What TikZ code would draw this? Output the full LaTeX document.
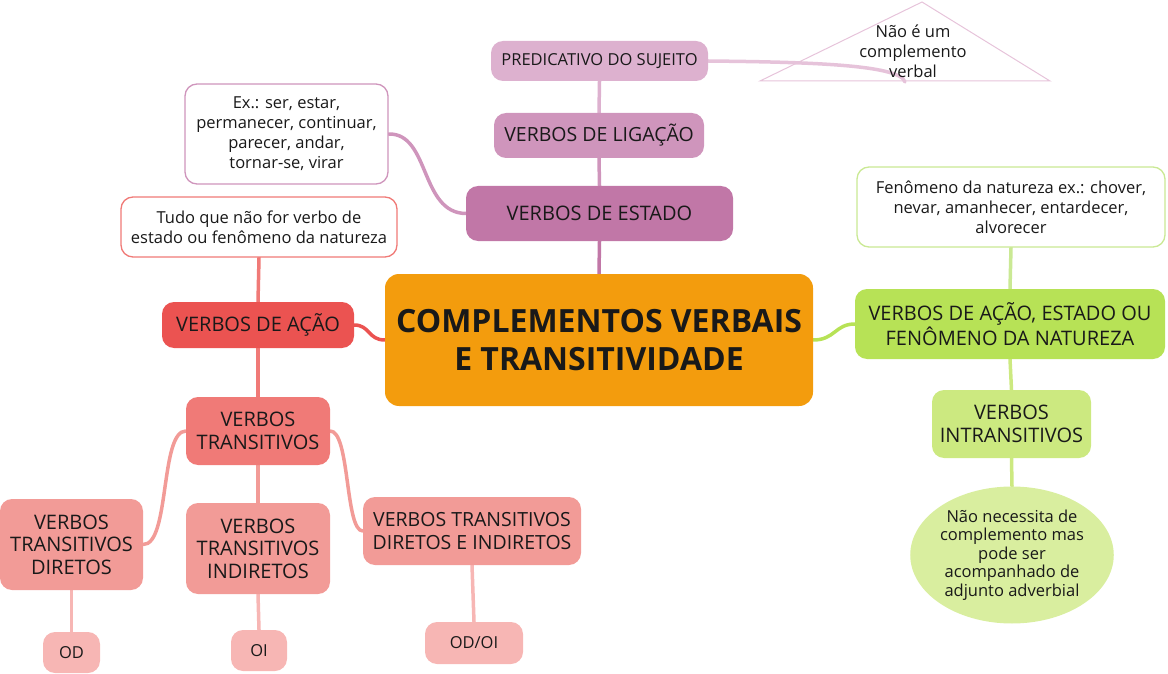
\documentclass[tikz,border=0pt]{standalone}
\usepackage{fontspec}
\setmainfont{Open Sans}
\usetikzlibrary{shapes.geometric, backgrounds}

\definecolor{centroC}{HTML}{F39C0D}
\definecolor{estadoC}{HTML}{C177A7}
\definecolor{ligacaoC}{HTML}{CF95BC}
\definecolor{predC}{HTML}{DDB1CF}
\definecolor{notaC}{HTML}{E6C3DA}
\definecolor{acaoC}{HTML}{EB5351}
\definecolor{transC}{HTML}{F07A77}
\definecolor{subC}{HTML}{F29B97}
\definecolor{folhaC}{HTML}{F7B6B4}
\definecolor{verdeC}{HTML}{B7E256}
\definecolor{intransC}{HTML}{CCE980}
\definecolor{elipseC}{HTML}{D9EE9F}
\definecolor{bordaVerdeC}{HTML}{CAE994}

\tikzset{
  box/.style={rounded corners=12pt, align=center, text=black!90, inner sep=0pt},
  nota/.style={box, fill=white, line width=1.3pt},
  elo/.style={line width=3.5pt, line cap=round},
  fs/.style args={#1/#2}{font=\fontsize{#1}{#2}\selectfont},
}

\begin{document}
\begin{tikzpicture}[x=1pt, y=-1pt]
  \useasboundingbox (0,0) rectangle (1168,674);
  % central topic
  \node[box, fill=centroC, minimum width=428, minimum height=132, rounded corners=14pt,
        font=\fontsize{32}{38}\selectfont\bfseries] (centro) at (599,340)
        {COMPLEMENTOS VERBAIS\\E TRANSITIVIDADE};
  % upper branch
  \node[box, fill=estadoC, minimum width=267, minimum height=55, fs=20/23] (estado) at (599.5,213.5) {VERBOS DE ESTADO};
  \node[box, fill=ligacaoC, minimum width=210, minimum height=45, fs=19.5/23] (ligacao) at (599,135.5) {VERBOS DE LIGAÇÃO};
  \node[box, fill=predC, minimum width=217, minimum height=40, fs=16.5/18] (pred) at (599.5,61) {PREDICATIVO DO SUJEITO};
  \node[nota, draw=ligacaoC, minimum width=203, minimum height=100, fs=16.5/20] (exemplo) at (286.5,134)
        {Ex.: ser, estar,\\permanecer, continuar,\\parecer, andar,\\tornar-se, virar};
  \draw[notaC, line width=1pt] (760,81) -- (922,2) -- (1050,81) -- cycle;
  \node[align=center, text=black!90, fs=16.5/20, inner sep=0pt] (naoe) at (913,51) {Não é um\\complemento\\verbal};
  \coordinate (pontaNota) at (905,82);
  % left branch
  \node[box, fill=acaoC, minimum width=192, minimum height=46, fs=20/22] (acao) at (258,325) {VERBOS DE AÇÃO};
  \node[nota, draw=transC, minimum width=276, minimum height=60, fs=16.5/20] (tudo) at (259,227)
        {Tudo que não for verbo de\\estado ou fenômeno da natureza};
  \node[box, fill=transC, minimum width=144, minimum height=68, fs=20/23] (trans) at (258,431) {VERBOS\\TRANSITIVOS};
  \node[box, fill=subC, minimum width=143, minimum height=91, fs=20/22.5] (vtd) at (71.5,544.5) {VERBOS\\TRANSITIVOS\\DIRETOS};
  \node[box, fill=subC, minimum width=144, minimum height=91, fs=20/22.5] (vti) at (258,548.5) {VERBOS\\TRANSITIVOS\\INDIRETOS};
  \node[box, fill=subC, minimum width=218, minimum height=68, fs=19.5/23] (vtdi) at (472,531) {VERBOS TRANSITIVOS\\DIRETOS E INDIRETOS};
  \node[box, fill=folhaC, minimum width=57, minimum height=41, fs=16.5/18] (od) at (71.5,652.5) {OD};
  \node[box, fill=folhaC, minimum width=56, minimum height=41, fs=16.5/18] (oi) at (259,650.5) {OI};
  \node[box, fill=folhaC, minimum width=98, minimum height=42, fs=16.5/18] (odoi) at (474,643) {OD/OI};
  % right branch
  \node[box, fill=verdeC, minimum width=310, minimum height=70, fs=20/25] (verde) at (1010,324)
        {VERBOS DE AÇÃO, ESTADO OU\\FENÔMENO DA NATUREZA};
  \node[nota, draw=bordaVerdeC, minimum width=308, minimum height=80, fs=16.5/20] (fenomeno) at (1011,207)
        {Fenômeno da natureza ex.: chover,\\nevar, amanhecer, entardecer,\\alvorecer};
  \node[box, fill=intransC, minimum width=159, minimum height=68, fs=20/23] (intrans) at (1011.5,424) {VERBOS\\INTRANSITIVOS};
  \node[ellipse, fill=elipseC, minimum width=202, minimum height=137, inner sep=0pt, align=center,
        text=black!90, fs=16.5/18.5] (elipse) at (1012,555)
        {Não necessita de\\complemento mas\\pode ser\\acompanhado de\\adjunto adverbial};
  % connectors
  \begin{scope}[on background layer]
  \draw[elo, estadoC] (centro.north) -- (estado.south);
  \draw[elo, ligacaoC] (estado.north) -- (ligacao.south);
  \draw[elo, predC] (ligacao.north) -- (pred.south);
  \draw[elo, notaC] (pred.east) .. controls (800,62) and (900,64) .. (pontaNota);
  \draw[elo, ligacaoC] (exemplo.east) .. controls (430,133) and (420,213) .. (estado.west);
  \draw[elo, acaoC] (centro.west) .. controls (368,340) and (370,325) .. (acao.east);
  \draw[elo, transC] (tudo.south) -- (acao.north);
  \draw[elo, transC] (acao.south) -- (trans.north);
  \draw[elo, subC] (trans.west) .. controls (160,431) and (170,545) .. (vtd.east);
  \draw[elo, subC] (trans.south) -- (vti.north);
  \draw[elo, subC] (trans.east) .. controls (350,431) and (345,531) .. (vtdi.west);
  \draw[elo, folhaC] (vtd.south) -- (od.north);
  \draw[elo, folhaC] (vti.south) -- (oi.north);
  \draw[elo, folhaC] (vtdi.south) -- (odoi.north);
  \draw[elo, verdeC] (centro.east) .. controls (835,340) and (835,324) .. (verde.west);
  \draw[elo, bordaVerdeC] (fenomeno.south) -- (verde.north);
  \draw[elo, intransC] (verde.south) -- (intrans.north);
  \draw[elo, intransC] (intrans.south) -- (elipse.north);
  \end{scope}
\end{tikzpicture}
\end{document}
